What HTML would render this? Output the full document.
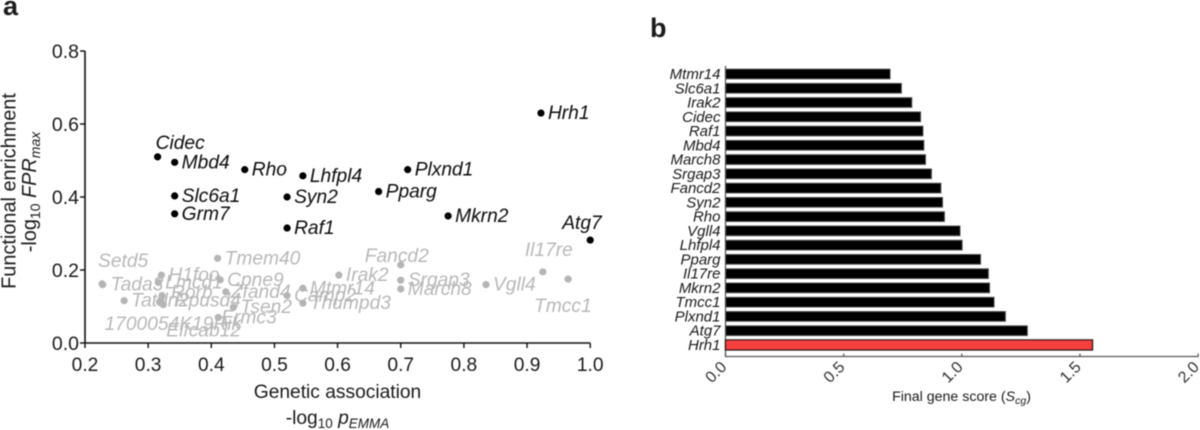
<!DOCTYPE html>
<html>
<head>
<meta charset="utf-8">
<style>
html,body{margin:0;padding:0;background:#fff;width:1200px;height:430px;overflow:hidden}
svg{display:block;font-family:"Liberation Sans",Arial,sans-serif}
text{fill:#1a1a1a}
</style>
</head>
<body>
<svg id="fig" xmlns="http://www.w3.org/2000/svg" width="1200" height="430" viewBox="0 0 1200 430">
  <g id="blurred" filter="url(#soft)">
  <text x="3" y="15" font-size="27" font-weight="700" fill="#000">a</text>
  <text x="650" y="37" font-size="27" font-weight="700" fill="#000">b</text>
  <g id="scatter"></g>
  <g id="bars"></g>
  <text transform="translate(15.5,191) rotate(-90)" text-anchor="middle" font-size="19.9">Functional enrichment</text>
  <text transform="translate(36,192) rotate(-90)" text-anchor="middle" font-size="19.9">-log<tspan font-size="14" dy="4">10</tspan><tspan dy="-4"> </tspan><tspan font-style="italic">FPR</tspan><tspan font-style="italic" font-size="14" dy="4">max</tspan></text>
  <text x="337.5" y="398" text-anchor="middle" font-size="19.2">Genetic association</text>
  <text x="337.5" y="424" text-anchor="middle" font-size="19.2">-log<tspan font-size="13.5" dy="4">10</tspan><tspan dy="-4"> </tspan><tspan font-style="italic">p</tspan><tspan font-style="italic" font-size="13.5" dy="4">EMMA</tspan></text>
  <text x="961.5" y="401" text-anchor="middle" font-size="14.2">Final gene score (<tspan font-style="italic">S</tspan><tspan font-style="italic" font-size="10.5" dy="3">cg</tspan><tspan dy="-3">)</tspan></text>
  </g>
  <defs><filter id="soft" x="0" y="0" width="100%" height="100%"><feGaussianBlur stdDeviation="0.45"/></filter></defs>
</svg>
<script>
// ---- Panel a: data ----
const xTicks = [0.2,0.3,0.4,0.5,0.6,0.7,0.8,0.9,1.0];
const yTicks = [0.0,0.2,0.4,0.6,0.8];
const sigGenes = ["Hrh1","Cidec","Mbd4","Rho","Lhfpl4","Plxnd1","Pparg","Slc6a1","Syn2","Grm7","Raf1","Mkrn2","Atg7"];
const sigX = [0.922,0.315,0.342,0.453,0.545,0.711,0.665,0.342,0.52,0.342,0.52,0.775,1.0];
const sigY = [0.63,0.51,0.495,0.475,0.458,0.475,0.415,0.403,0.40,0.354,0.315,0.348,0.282];
const otherGenes = ["Setd5","Tada3","Tatdn2","H1foo","Lmcd1","Tmem40","Cpne9","Zfand4","Rorb","Rpusd4","Tsen2","Ermc3","1700054K19Rik","Elfcab12","Camp2","Mtmr14","Thumpd3","Irak2","Fancd2","Srgap3","March8","Vgll4","Il17re","Tmcc1"];
const otherX = [0.227,0.228,0.262,0.321,0.316,0.410,0.414,0.423,0.322,0.320,0.435,0.411,0.318,0.324,0.52,0.545,0.545,0.602,0.70,0.70,0.70,0.835,0.925,0.965];
const otherY = [0.162,0.160,0.116,0.186,0.166,0.232,0.173,0.14,0.13,0.117,0.098,0.07,0.112,0.105,0.13,0.15,0.109,0.186,0.214,0.172,0.148,0.16,0.195,0.175];

// ---- Panel b: data ----
const barGenes = ["Mtmr14","Slc6a1","Irak2","Cidec","Raf1","Mbd4","March8","Srgap3","Fancd2","Syn2","Rho","Vgll4","Lhfpl4","Pparg","Il17re","Mkrn2","Tmcc1","Plxnd1","Atg7","Hrh1"];
const barValues = [0.697,0.745,0.789,0.826,0.836,0.84,0.847,0.872,0.912,0.919,0.927,0.993,1.002,1.08,1.113,1.118,1.137,1.185,1.278,1.553];
const barTicks = [0.0,0.5,1.0,1.5,2.0];

// ---- label placement (style, not data): offset of label start from its point ----
const labelShift = {
  Cidec:[-2,-8], Atg7:[-28,-11], Setd5:[-4,-17], Tada3:[8,6], Il17re:[-18,-16], Tmcc1:[-34,33], Fancd2:[-36,-3],
  "1700054K19Rik":[-55,28], Elfcab12:[3,32], Ermc3:[3,6], Tsen2:[7,6], Zfand4:[5,6], Rorb:[9,3], Rpusd4:[14,6]
};

const NS = "http://www.w3.org/2000/svg";
function make(parent, tag, attrs, text){
  const el = document.createElementNS(NS, tag);
  for (const k in attrs) el.setAttribute(k, attrs[k]);
  if (text !== undefined) el.textContent = text;
  parent.appendChild(el);
  return el;
}
// Scales
const sx = v => 85 + (v - 0.2) * 631.5;
const sy = v => 343 - v * 365;
const bx = v => 725.5 + v * 236.3;
const by = i => 74 + i * 14.26;

const sc = document.getElementById("scatter");
const br = document.getElementById("bars");

// Scatter axes
let el = make(sc,"line",{x1:sx(0.2),x2:sx(0.2),y1:sy(0.8),y2:sy(0),stroke:"#111","stroke-width":1.6});


el = make(sc,"line",{x1:sx(0.2),x2:sx(1.0),y1:sy(0),y2:sy(0),stroke:"#111","stroke-width":1.6});


xTicks.forEach(t=>{
  let a = make(sc,"line",{x1:sx(t),x2:sx(t),y1:sy(0),y2:sy(0)+5,stroke:"#111","stroke-width":1.4});
  
  
  let b = make(sc,"text",{x:sx(t),y:371,"text-anchor":"middle","font-size":19.2},t.toFixed(1));
  
  
});
yTicks.forEach(t=>{
  let a = make(sc,"line",{x1:sx(0.2)-5,x2:sx(0.2),y1:sy(t),y2:sy(t),stroke:"#111","stroke-width":1.4});
  
  
  let b = make(sc,"text",{x:79,y:sy(t)+7,"text-anchor":"end","font-size":19.5},t.toFixed(1));
  
  
});
// Grey points drawn first
otherGenes.forEach((g,i)=>{
  const px = sx(otherX[i]), py = sy(otherY[i]);
  const s = labelShift[g] || [7,6];
  let c = make(sc,"circle",{cx:px,cy:py,r:3.6,fill:"#b5b5b5"});
  
  
  let t = make(sc,"text",{x:px+s[0],y:py+s[1],"font-size":19.2,"font-style":"italic",style:"fill:#b8b8b8"},g);
  
  
});
sigGenes.forEach((g,i)=>{
  const px = sx(sigX[i]), py = sy(sigY[i]);
  const s = labelShift[g] || [7,6];
  let c = make(sc,"circle",{cx:px,cy:py,r:3.6,fill:"#000"});
  
  
  let t = make(sc,"text",{x:px+s[0],y:py+s[1],"font-size":19.2,"font-style":"italic",style:"fill:#0a0a0a"},g);
  
  
});

// Bars
el = make(br,"line",{x1:bx(0),x2:bx(0),y1:66,y2:357,stroke:"#555","stroke-width":1.3});


el = make(br,"line",{x1:bx(0),x2:bx(2),y1:356.5,y2:356.5,stroke:"#555","stroke-width":1.3});


barGenes.forEach((g,i)=>{
  const y = by(i), isTop = g === "Hrh1";
  let r = make(br,"rect",{x:bx(0),y:y-5,width:bx(barValues[i])-bx(0),height:10,fill:isTop?"#f64040":"#000",stroke:isTop?"#111":"#555","stroke-width":isTop?1.3:0.7});
  
  
  let t = make(br,"text",{x:bx(0)-5,y:y+5,"text-anchor":"end","font-size":15,"font-style":"italic"},g);
  
  
});
barTicks.forEach(t=>{
  let a = make(br,"line",{x1:bx(t),x2:bx(t),y1:353.5,y2:357,stroke:"#555","stroke-width":1.2});
  
  
  let b = make(br,"text",{transform:`translate(${bx(t)+2},368) rotate(-45)`,"text-anchor":"end","font-size":16,style:"fill:#333"},t.toFixed(1));
  
  
});
</script>
</body>
</html>
